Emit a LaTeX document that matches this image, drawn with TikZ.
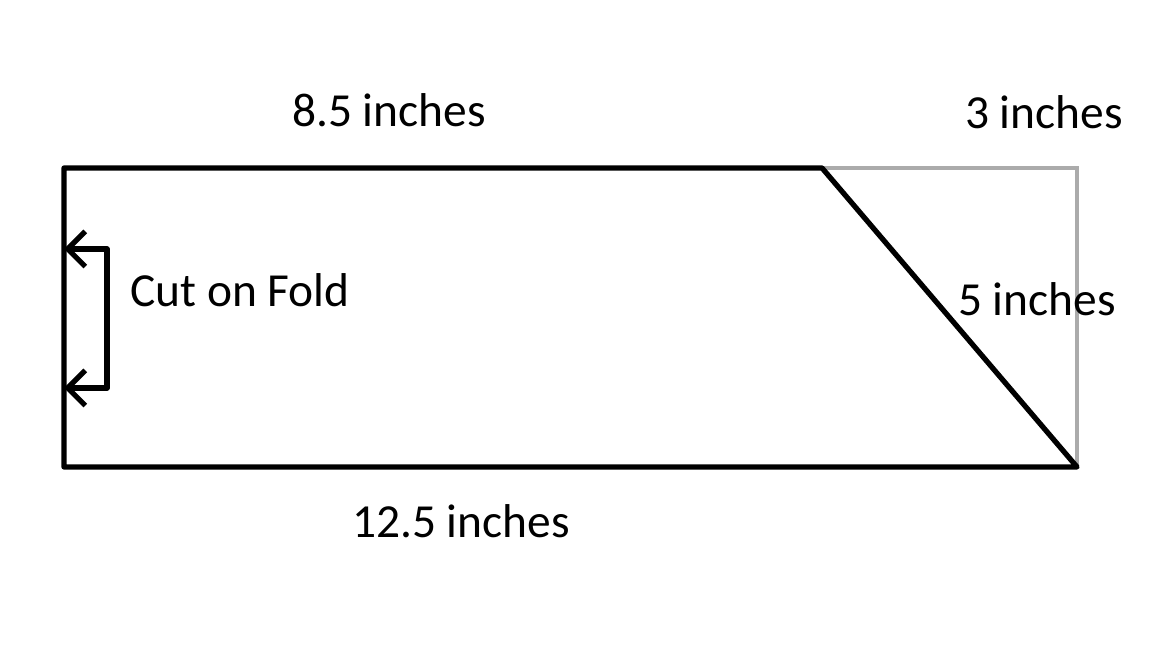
\documentclass[tikz,border=0pt]{standalone}
\usepackage{fontspec}
\setmainfont{Carlito}
\usetikzlibrary{arrows.meta}
\tikzset{
  edge/.style    = { line width=1.5pt, line join=round },
  hidden/.style  = { line width=1.1pt, draw=black!33 },
  fold/.style    = { line width=1.5pt, line join=round, {Straight Barb[length=5pt,width=10pt]}-{Straight Barb[length=5pt,width=10pt]} },
  dim/.style     = { font=\fontsize{13.5}{16}\selectfont, inner sep=0pt }
}

\begin{document}
\begin{tikzpicture}
    \useasboundingbox (0,0) rectangle (11.52,6.48);

    \coordinate (tl) at (0.64,4.80);
    \coordinate (bl) at (0.64,1.81);
    \coordinate (br) at (10.77,1.81);
    \coordinate (tr) at (10.77,4.80);
    \coordinate (cut) at (8.22,4.80);

    \draw[hidden] (cut) -- (tr) -- (br);
    \draw[edge] (cut) -- (tl) -- (bl) -- (br) -- cycle;

    \coordinate (foldtop) at (0.64,3.99);
    \coordinate (foldbot) at (0.64,2.60);
    \draw[fold] (foldtop) -| (1.07,2.60) -- (foldbot);

    \node[dim] (top)    at (3.89,5.38)  {8.5 inches};
    \node[dim] (corner) at (10.44,5.36) {3 inches};
    \node[dim] (slant)  at (10.37,3.49) {5 inches};
    \node[dim] (foldlabel) at (2.40,3.58) {Cut on Fold};
    \node[dim] (bottom) at (4.61,1.27)  {12.5 inches};
\end{tikzpicture}
\end{document}
